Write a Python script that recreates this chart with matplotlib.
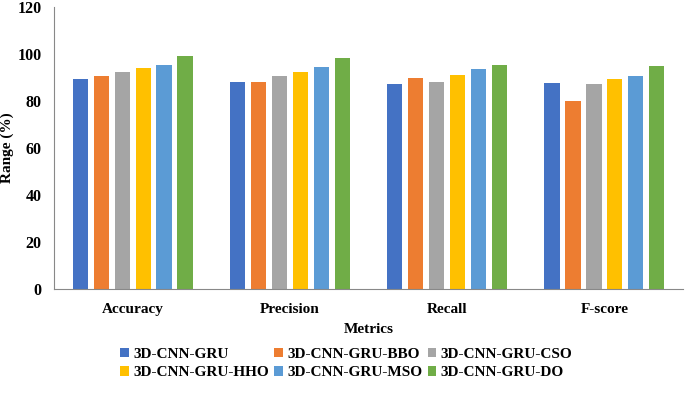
import numpy as np
import matplotlib
matplotlib.use("Agg")
import matplotlib.pyplot as plt

plt.rcParams['font.family'] = ['Liberation Serif', 'DejaVu Serif']
plt.rcParams['font.weight'] = 'bold'

metrics = ["Accuracy", "Precision", "Recall", "F-score"]
models = ["3D-CNN-GRU", "3D-CNN-GRU-BBO", "3D-CNN-GRU-CSO",
          "3D-CNN-GRU-HHO", "3D-CNN-GRU-MSO", "3D-CNN-GRU-DO"]
colors = ["#4472C4", "#ED7D31", "#A5A5A5", "#FFC000", "#5B9BD5", "#70AD47"]

cnn_gru = [89.4, 88.3, 87.4, 87.7]
cnn_gru_bbo = [90.7, 88.3, 89.7, 79.9]
cnn_gru_cso = [92.6, 90.7, 88.3, 87.4]
cnn_gru_hho = [94.1, 92.4, 91.2, 89.3]
cnn_gru_mso = [95.3, 94.6, 93.6, 90.5]
cnn_gru_do = [99.2, 98.4, 95.3, 94.9]
values = [cnn_gru, cnn_gru_bbo, cnn_gru_cso, cnn_gru_hho, cnn_gru_mso, cnn_gru_do]

fig = plt.figure(figsize=(6.85, 3.95), dpi=100)
ax = fig.add_axes([0.079, 0.268, 0.918, 0.714])

x = np.arange(len(metrics))
slot = 0.133
w = 0.097
bars = []
for i, (name, vals) in enumerate(zip(models, values)):
    b = ax.bar(x + (i - 2.5) * slot, vals, width=w, color=colors[i], label=name)
    bars.append(b)

ax.set_xlim(-0.5, 3.5)
ax.set_ylim(0, 120)
ax.set_yticks(range(0, 121, 20))
ax.set_xticks(x)
ax.set_xticklabels(metrics, fontweight='bold')
ax.tick_params(axis='x', length=0, labelsize=11, pad=10)
ax.tick_params(axis='y', length=0, labelsize=11.5, pad=9)
for lab in ax.get_yticklabels():
    lab.set_fontweight('bold')
ax.spines['top'].set_visible(False)
ax.spines['right'].set_visible(False)
ax.spines['left'].set_color('#888888')
ax.spines['bottom'].set_color('#888888')
ax.set_xlabel("Metrics", fontsize=11, fontweight='bold', labelpad=5)
ax.set_ylabel("Range (%)", fontsize=11, fontweight='bold')
ax.yaxis.set_label_coords(-0.063, 0.5)

# legend rows go left to right
order = [0, 3, 1, 4, 2, 5]
ax.legend([bars[k] for k in order], [models[k] for k in order],
          loc='upper center', bbox_to_anchor=(0.465, -0.16), ncol=3, frameon=False,
          fontsize=11, handlelength=0.55, handleheight=0.55, handletextpad=0.3,
          columnspacing=0.35, labelspacing=0.35)

fig.savefig("out.png", dpi=100)
